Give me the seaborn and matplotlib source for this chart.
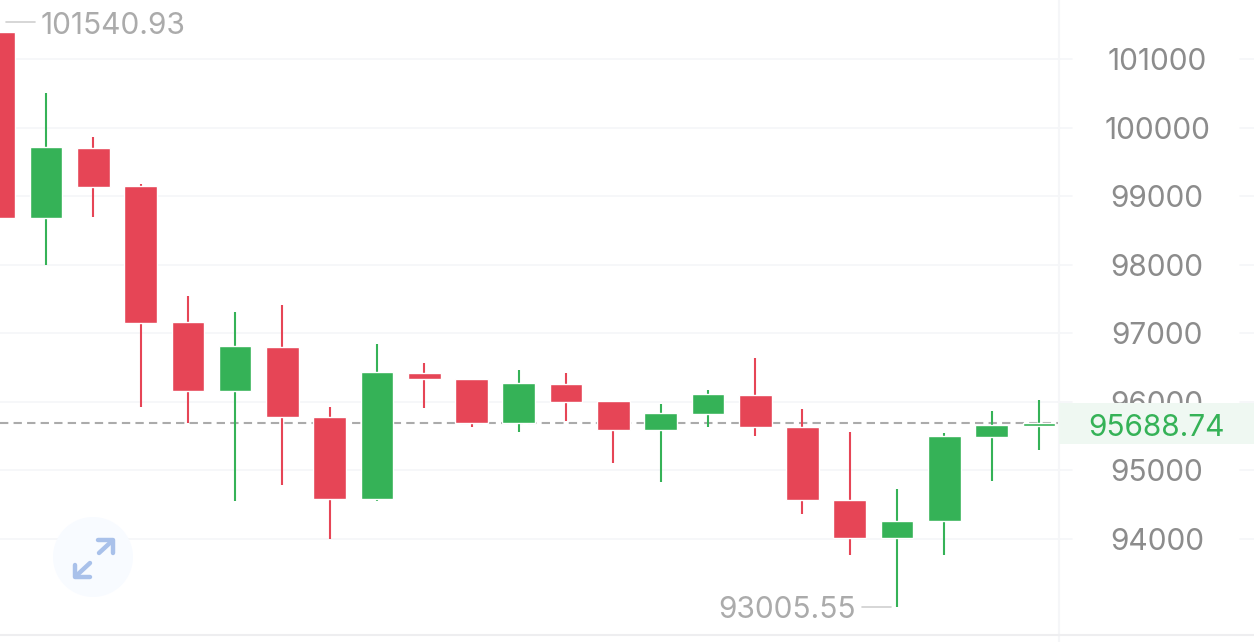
import numpy as np
import pandas as pd
import seaborn as sns
import matplotlib.pyplot as plt
from matplotlib.patches import Circle, Rectangle

# candle data
idx = list(range(23))
high = [101540.93, 100504, 99862, 99177, 97544, 97310, 97413, 95925, 96844, 96567, 96333, 96465,
        96421, 96012, 95969, 96173, 96640, 95896, 95560, 94729, 95546, 95867, 96027]
top = [101395, 99715, 99700, 99148, 97165, 96815, 96800, 95780, 96436, 96420, 96334, 96275,
       96260, 96012, 95838, 96115, 96100, 95634, 94569, 94263, 95503, 95663, 95688.74]
bottom = [98681, 98681, 99133, 97150, 96158, 96158, 95779, 94583, 94583, 96333, 95692, 95692,
          95998, 95590, 95590, 95823, 95633, 94569, 94015, 94015, 94262, 95488, 95645]
low = [98142, 97996, 98696, 95925, 95692, 94554, 94787, 94000, 94554, 95910, 95633, 95560,
       95721, 95108, 94831, 95633, 95502, 94365, 93767, 93005.55, 93767, 94846, 95298]
rising = [False, True, False, False, False, True, False, False, True, False, False, True,
          False, False, True, True, False, False, False, True, True, True, True]
y_ticks = [94000, 95000, 96000, 97000, 98000, 99000, 100000, 101000]
last_price = 95688.74
max_price = 101540.93
min_price = 93005.55

RED = '#e64556'
GREEN = '#35b257'
GRID = '#f5f6f8'

df = pd.DataFrame({'idx': idx, 'high': high, 'top': top, 'bottom': bottom, 'low': low, 'rising': rising})
df['body'] = df['top'] - df['bottom']

sns.set_theme(style='white')
plt.rcParams['font.family'] = ['Inter', 'DejaVu Sans']

fig = plt.figure(figsize=(12.54, 6.42), dpi=100)
ax = fig.add_axes([0, 0, 1, 1])

# wicks then bodies
for is_up, color in [(True, GREEN), (False, RED)]:
    part = df[df['rising'] == is_up]
    ax.vlines(part['idx'], part['low'], part['high'], color=color, lw=1.5, zorder=3)
    sns.barplot(data=part, x='idx', y='body', bottom=part['bottom'].values, native_scale=True,
                color=color, saturation=1, width=0.69, errorbar=None, ax=ax, zorder=4)

ax.set_xlim(0.027, 26.55)
ax.set_ylim(92498, 101860)
ax.set_xlabel('')
ax.set_ylabel('')
ax.set_xticks([])
ax.set_yticks([])
sns.despine(ax=ax, left=True, bottom=True)

# grid, broken behind the axis labels
trans = ax.get_yaxis_transform()
for t in y_ticks:
    ax.axhline(t, 0, 1072 / 1254, color=GRID, lw=1.2, zorder=1)
    ax.axhline(t, 1240 / 1254, 1, color=GRID, lw=1.2, zorder=1)
    ax.annotate(str(t), xy=(1157 / 1254, t), xycoords=trans, xytext=(0, -2.2), textcoords='offset points',
                ha='center', va='center', fontsize=21.5, color='#8c8c8c', zorder=2)

ax.axhline(last_price, 0, 1059 / 1254, color='#ababab', lw=1.5, ls=(0, (4, 2.5)), zorder=2)

# overlay in pixels for the decorations
ov = fig.add_axes([0, 0, 1, 1])
ov.patch.set_alpha(0)
ov.set_xlim(0, 1254)
ov.set_ylim(642, 0)
ov.axis('off')

ov.axvline(1059, color=GRID, lw=1.5)
ov.axhline(635, color='#eeeef0', lw=1.5)
ov.add_patch(Rectangle((1059, 403), 195, 41, color='#eff8f2', lw=0, zorder=2))
ov.text(1157, 427.5, f'{last_price:.2f}', ha='center', va='center', fontsize=21.5, color=GREEN, zorder=3)

ov.plot([6, 35], [22, 22], color='#cfcfcf', lw=1.2)
ov.text(41, 25.5, f'{max_price:.2f}', ha='left', va='center', fontsize=21.5, color='#ababab')
ov.plot([862, 891], [607, 607], color='#cfcfcf', lw=1.2)
ov.text(856, 610.5, f'{min_price:.2f}', ha='right', va='center', fontsize=21.5, color='#ababab')

# expand button
ov.add_patch(Circle((93, 557), 40, color='#f8fbff', lw=0, zorder=1))
arrow_kw = dict(color='#a9c1ea', lw=3.2, solid_capstyle='round', solid_joinstyle='round', zorder=2)
ov.plot([99, 112], [553, 541], **arrow_kw)
ov.plot([98, 113, 113], [540, 540, 553], **arrow_kw)
ov.plot([90, 76], [563, 576], **arrow_kw)
ov.plot([75, 75, 90], [565, 577, 577], **arrow_kw)

fig.savefig('out.png', dpi=100)
